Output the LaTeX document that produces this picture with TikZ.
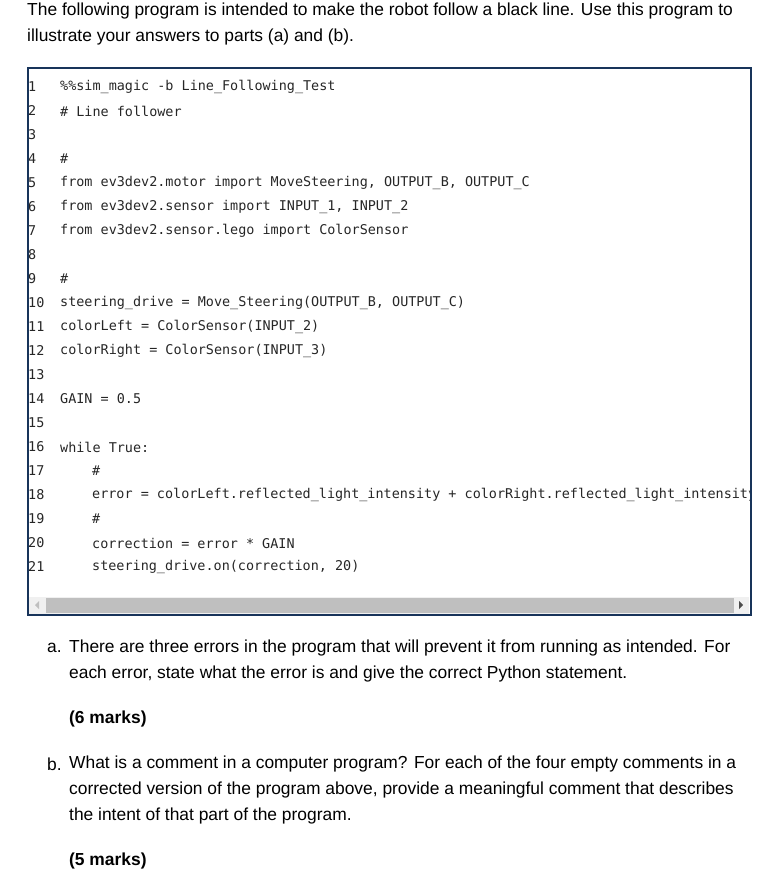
\documentclass[tikz,border=0pt]{standalone}
\usepackage{fontspec}
\setmainfont{Liberation Sans}
\newfontfamily\codefont{DejaVu Sans Mono}
\begin{document}
\begin{tikzpicture}[x=1pt,y=-1pt,
  txt/.style={anchor=west,inner sep=0pt,font=\fontsize{17.4}{20}\selectfont},
  code/.style={anchor=west,inner sep=0pt,font=\codefont\fontsize{13.45}{15}\selectfont,text=black!85}]
\useasboundingbox (0,0) rectangle (775,874);
\node[txt] (t1) at (27,11) {The following program is intended to make the robot follow a black line. Use this program to};
\node[txt] (t2) at (27,37) {illustrate your answers to parts (a) and (b).};
% code box
\begin{scope}
\clip (28,68) rectangle (749,614);
\foreach \n/\s [count=\i] in {
 1/{\%\%sim\_magic -b Line\_Following\_Test},
 2/{\# Line follower},3/{},4/{\#},
 5/{from ev3dev2.motor import MoveSteering, OUTPUT\_B, OUTPUT\_C},
 6/{from ev3dev2.sensor import INPUT\_1, INPUT\_2},
 7/{from ev3dev2.sensor.lego import ColorSensor},
 8/{},9/{\#},
 10/{steering\_drive = Move\_Steering(OUTPUT\_B, OUTPUT\_C)},
 11/{colorLeft = ColorSensor(INPUT\_2)},
 12/{colorRight = ColorSensor(INPUT\_3)},
 13/{},14/{GAIN = 0.5},15/{},16/{while True:}}{
  \node[code] (n\i) at (28,63+24*\i) {\n};
  \node[code] (c\i) at (60,63+24*\i) {\s};
}
\foreach \n/\s in {17/{\#},
 18/{error = colorLeft.reflected\_light\_intensity + colorRight.reflected\_light\_intensity},
 19/{\#},20/{correction = error * GAIN},21/{steering\_drive.on(correction, 20)}}{
  \node[code] (n\n) at (28,63+24*\n) {\n};
  \node[code] (c\n) at (92,63+24*\n) {\s};
}
\fill[white] (749,68) rectangle (751,614);
\fill[gray!12] (28,597) rectangle (749,614);
\fill[gray!50] (46,598) rectangle (734,613);
\fill[gray!50] (35,605) -- (39,601) -- (39,609) -- cycle;
\fill[black!70] (743,605) -- (739,601) -- (739,609) -- cycle;
\end{scope}
\draw[line width=2pt,draw={rgb,255:red,24;green,52;blue,90}] (28,68) rectangle (751,615);
\node[txt] (a) at (47,648) {a.};
\node[txt] (a1) at (69,648) {There are three errors in the program that will prevent it from running as intended. For};
\node[txt] (a2) at (69,674) {each error, state what the error is and give the correct Python statement.};
\node[txt,font=\bfseries\fontsize{17.4}{20}\selectfont] (am) at (69,719) {(6 marks)};
\node[txt] (b) at (47,764) {b.};
\node[txt] (b1) at (69,764) {What is a comment in a computer program? For each of the four empty comments in a};
\node[txt] (b2) at (69,790) {corrected version of the program above, provide a meaningful comment that describes};
\node[txt] (b3) at (69,816) {the intent of that part of the program.};
\node[txt,font=\bfseries\fontsize{17.4}{20}\selectfont] (bm) at (69,861) {(5 marks)};
\end{tikzpicture}
\end{document}
